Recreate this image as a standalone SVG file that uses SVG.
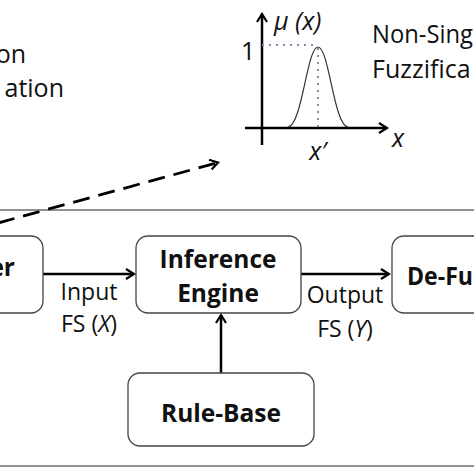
<svg xmlns="http://www.w3.org/2000/svg" width="474" height="474" viewBox="0 0 474 474">
<defs>
<style>
.t{font-family:"Open Sans","Noto Sans","Liberation Sans",sans-serif;fill:#111}
.b{font-weight:bold;font-size:24.5px}
.l{font-size:23px}
.big{font-size:25px}
.i{font-style:italic}
.box{fill:#fff;stroke:#444;stroke-width:1.3}
.ar{stroke:#000;stroke-width:2.5;fill:none}
</style>
<marker id="ah" viewBox="0 0 12 12" refX="10" refY="6" markerWidth="12" markerHeight="12" markerUnits="userSpaceOnUse" orient="auto">
<path d="M2,1 L10,6 L2,11" fill="none" stroke="#000" stroke-width="2.2"/>
</marker>
</defs>
<rect width="474" height="474" fill="#fff"/>
<rect x="-5" y="210" width="484" height="256" fill="none" stroke="#777" stroke-width="1.6"/>
<g id="label-left">
<text class="t big" x="26" y="63" text-anchor="end">on</text>
<text class="t big" x="64" y="97" text-anchor="end">ation</text>
</g>
<g id="label-right">
<text class="t big" x="372" y="43" textLength="101" lengthAdjust="spacingAndGlyphs">Non-Sing</text>
<text class="t big" x="372" y="78">Fuzzifica</text>
</g>
<g id="plot">
<line x1="262" y1="145" x2="262" y2="14" class="ar" marker-end="url(#ah)"/>
<line x1="245" y1="128" x2="387" y2="128" class="ar" marker-end="url(#ah)"/>
<line x1="262" y1="45" x2="318" y2="45" stroke="#8a8ab0" stroke-width="2" stroke-dasharray="2,5"/>
<line x1="318" y1="48" x2="318" y2="127" stroke="#8a8ab0" stroke-width="2" stroke-dasharray="2,5"/>
<path d="M288,127 C302,126 307,47 318,47 C329,47 334,126 348,127" fill="none" stroke="#333" stroke-width="1.2"/>
<text class="t big i" x="274" y="30">μ (x)</text>
<text class="t big" x="241" y="60">1</text>
<text class="t big i" x="318" y="160" text-anchor="middle">x′</text>
<text class="t big i" x="392" y="147">x</text>
</g>
<g id="connectors">
<line x1="-2" y1="223" x2="218" y2="162.5" stroke="#000" stroke-width="2.8" stroke-dasharray="17,9" marker-end="url(#ah)"/>
<line x1="43" y1="274" x2="134" y2="274" class="ar" marker-end="url(#ah)"/>
<line x1="301" y1="274" x2="389" y2="274" class="ar" marker-end="url(#ah)"/>
<line x1="221" y1="373" x2="221" y2="315" class="ar" marker-end="url(#ah)"/>
<text class="t l" x="89" y="300" text-anchor="middle">Input</text>
<text class="t l" x="89" y="332" text-anchor="middle">FS (<tspan class="i">X</tspan>)</text>
<text class="t l" x="345" y="303" text-anchor="middle">Output</text>
<text class="t l" x="345" y="337" text-anchor="middle">FS (<tspan class="i">Y</tspan>)</text>
</g>
<g id="fuzzifier">
<rect class="box" x="-20" y="236" width="63" height="77" rx="12"/>
<text class="t b" x="15" y="276" text-anchor="end">er</text>
</g>
<g id="inference">
<rect class="box" x="136" y="236" width="165" height="77" rx="12"/>
<text class="t b" x="218" y="268" text-anchor="middle">Inference</text>
<text class="t b" x="218" y="302" text-anchor="middle">Engine</text>
</g>
<g id="defuzzifier">
<rect class="box" x="392" y="236" width="100" height="77" rx="12"/>
<text class="t b" x="407" y="285" textLength="66" lengthAdjust="spacingAndGlyphs">De-Fu</text>
</g>
<g id="rulebase">
<rect class="box" x="128" y="373" width="186" height="73" rx="12"/>
<text class="t b" x="221" y="422" text-anchor="middle">Rule-Base</text>
</g>
</svg>
